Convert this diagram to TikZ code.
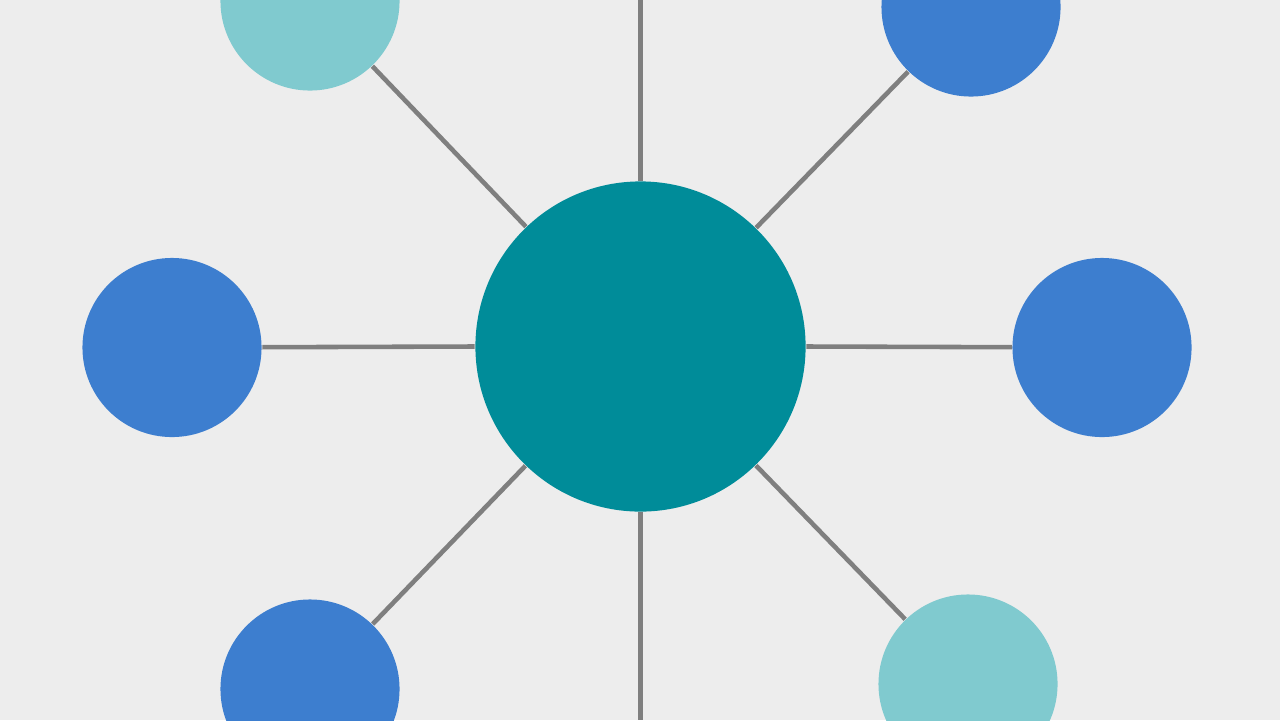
\documentclass[tikz,border=0pt]{standalone}
\usepackage{tikz}

\definecolor{bgcol}{HTML}{EDEDED}
\definecolor{spokecol}{HTML}{7F7F7F}
\definecolor{hubcol}{HTML}{008C99}
\definecolor{bluecol}{HTML}{3D7ECF}
\definecolor{palecol}{HTML}{80CACF}

\tikzset{
  hub/.style={circle,fill=hubcol,minimum size=3.3cm,inner sep=0pt},
  sat/.style={circle,fill=bluecol,minimum size=1.79cm,inner sep=0pt},
  palesat/.style={sat,fill=palecol},
  spoke/.style={draw=spokecol,line width=1.3pt}
}

\begin{document}
\begin{tikzpicture}[x=0.01cm,y=0.01cm]
      \fill[bgcol] (0, 0) rectangle (1280, 720);
      \useasboundingbox (0, 0) rectangle (1280, 720);
      % hub and satellites
      \node[hub] (center) at (640.5, 373.5) {};
      \node[sat] (left) at (172, 372.5) {};
      \node[sat] (right) at (1102, 372.5) {};
      \node[palesat] (topleft) at (310, 719) {};
      \node[sat] (topright) at (971, 713) {};
      \node[sat] (bottomleft) at (310, 31) {};
      \node[palesat] (bottomright) at (968, 36) {};
      \coordinate (topend) at (640.5, 720);
      \coordinate (bottomend) at (640.5, 0);
      % spokes
      \draw[spoke] (center) -- (topend);
      \draw[spoke] (center) -- (bottomend);
      \draw[spoke] (center.west) -- (left);
      \draw[spoke] (center.east) -- (right);
      \draw[spoke] (center) -- (topleft);
      \draw[spoke] (center) -- (topright);
      \draw[spoke] (center) -- (bottomleft);
      \draw[spoke] (center) -- (bottomright);
\end{tikzpicture}
\end{document}
